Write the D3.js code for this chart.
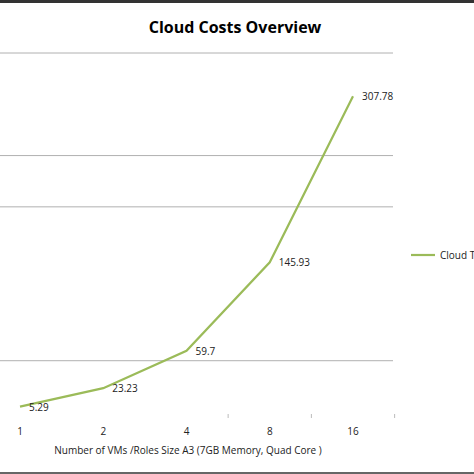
<!DOCTYPE html>
<html>
<head>
<meta charset="utf-8">
<script src="https://cdn.jsdelivr.net/npm/d3@7"></script>
<style>
body { margin: 0; background: #fff; }
text { font-family: "Open Sans", "DejaVu Sans", sans-serif; }
</style>
</head>
<body>
<svg id="chart" width="474" height="474"></svg>
<script>
const categories = ["1", "2", "4", "8", "16"];
const costs = [5.29, 23.23, 59.7, 145.93, 307.78];
const labels = ["5.29", "23.23", "59.7", "145.93", "307.78"];
const gridValues = [50, 200, 250, 350];

const svg = d3.select("#chart")

svg.append("rect").attr("width", 474).attr("height", 474).attr("fill", "#fff")
svg.append("rect").attr("y", 0).attr("width", 474).attr("height", 3).attr("fill", "#333")
svg.append("rect").attr("y", 472).attr("width", 474).attr("height", 2).attr("fill", "#666")

var x = d3.scalePoint().domain(categories).range([20, 353])
var y = d3.scaleLinear().domain([0, 350]).range([412, 53])

svg.selectAll(".grid").data(gridValues).enter().append("line")
    .attr("x1", 0).attr("x2", 393)
    .attr("y1", d => y(d)).attr("y2", d => y(d))
    .attr("stroke", "#b0b0b0").attr("stroke-width", 1)

// small tick marks between categories
var step = x.step()
svg.selectAll(".tick").data(categories.slice(2)).enter().append("line")
    .attr("x1", d => x(d) + step / 2).attr("x2", d => x(d) + step / 2)
    .attr("y1", 414).attr("y2", 418)
    .attr("stroke", "#bbb")

svg.selectAll(".xlab").data(categories).enter().append("text")
    .attr("x", d => x(d)).attr("y", 435)
    .attr("text-anchor", "middle").attr("font-size", 10).attr("fill", "#222")
    .text(d => d)

var line = d3.line().x((d, i) => x(categories[i])).y(d => y(d))
svg.append("path").datum(costs)
    .attr("d", line).attr("fill", "none")
    .attr("stroke", "#9bbb59").attr("stroke-width", 2.2)

svg.selectAll(".dlab").data(costs).enter().append("text")
    .attr("x", (d, i) => x(categories[i]) + 9)
    .attr("y", d => y(d) + 4)
    .attr("font-size", 10).attr("fill", "#222")
    .text((d, i) => labels[i])

svg.append("text").attr("x", 235).attr("y", 33)
    .attr("text-anchor", "middle").attr("font-size", 16).attr("font-weight", "bold")
    .text("Cloud Costs Overview")

svg.append("text").attr("x", 188).attr("y", 454)
    .attr("text-anchor", "middle").attr("font-size", 10).attr("fill", "#222")
    .text("Number of VMs /Roles  Size A3 (7GB Memory, Quad Core )")

svg.append("line").attr("x1", 411).attr("x2", 435).attr("y1", 255).attr("y2", 255)
    .attr("stroke", "#9bbb59").attr("stroke-width", 2.2)
svg.append("text").attr("x", 440).attr("y", 259)
    .attr("font-size", 10).attr("fill", "#222").text("Cloud Total")
</script>
</body>
</html>
